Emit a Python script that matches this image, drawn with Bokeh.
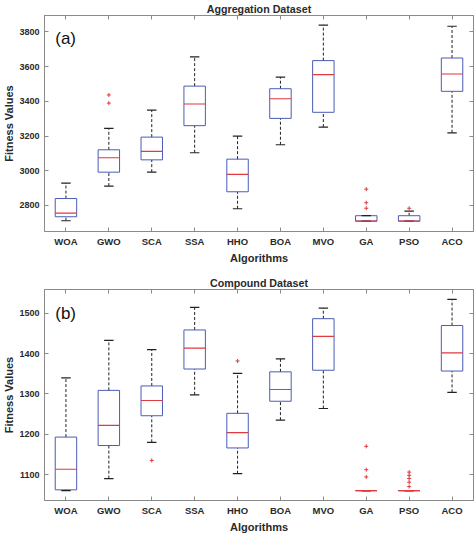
import numpy as np
from bokeh.plotting import figure
from bokeh.layouts import column
from bokeh.models import Range1d, FixedTicker, LinearAxis, Label
from bokeh.embed import file_html
from bokeh.resources import INLINE

algorithms = ["WOA", "GWO", "SCA", "SSA", "HHO", "BOA", "MVO", "GA", "PSO", "ACO"]

# Aggregation dataset (box statistics)
agg_lo  = [2712, 2912, 2992, 3104, 2781, 3150, 3252, 2710, 2710, 3219]
agg_q1  = [2735, 2992, 3063, 3260, 2879, 3302, 3337, 2710, 2710, 3458]
agg_med = [2756, 3075, 3112, 3385, 2979, 3415, 3554, 2710, 2710, 3558]
agg_q3  = [2840, 3121, 3194, 3488, 3067, 3473, 3635, 2741, 2741, 3650]
agg_hi  = [2929, 3244, 3350, 3656, 3200, 3540, 3840, 2741, 2767, 3833]
agg_out = {"GWO": [3437, 3390], "GA": [2894, 2816, 2784], "PSO": [2784]}
agg_yticks = [2800, 3000, 3200, 3400, 3600, 3800]

# Compound dataset (box statistics)
cmp_lo  = [1060, 1090, 1180, 1298, 1102, 1235, 1264, 1060, 1060, 1304]
cmp_q1  = [1062, 1172, 1246, 1362, 1166, 1282, 1359, 1060, 1060, 1357]
cmp_med = [1113, 1222, 1284, 1414, 1204, 1311, 1443, 1060, 1060, 1402]
cmp_q3  = [1193, 1309, 1320, 1459, 1252, 1355, 1487, 1060, 1060, 1470]
cmp_hi  = [1340, 1433, 1410, 1515, 1351, 1387, 1513, 1060, 1060, 1535]
cmp_out = {"SCA": [1135], "HHO": [1382], "GA": [1170, 1112, 1094],
           "PSO": [1106, 1098, 1090, 1081, 1070]}
cmp_yticks = [1100, 1200, 1300, 1400, 1500]

FONT = "Liberation Sans"
FRAME = "#8a8a8a"
BOX = "#4a5cb5"
RED = "#e0393e"
TXT = "#2a2a2a"


def tick_only_axis(ticks):
    return LinearAxis(ticker=FixedTicker(ticks=ticks),
                      major_label_overrides={t: "" for t in ticks},
                      major_label_standoff=0, major_tick_in=4, major_tick_out=0,
                      minor_tick_in=0, minor_tick_out=0, axis_line_color=FRAME,
                      major_tick_line_color=FRAME)


def panel(title, lo, q1, med, q3, hi, outl, yticks, yrange, tag, tag_y,
          height, top_border, bottom_border):
    x = np.arange(1, len(algorithms) + 1)
    xt = [int(i) for i in x]
    p = figure(width=474, height=height, output_backend="svg", toolbar_location=None,
               x_range=Range1d(0.5, len(algorithms) + 0.5), y_range=Range1d(*yrange),
               min_border_left=39, min_border_right=1, min_border_top=top_border,
               min_border_bottom=bottom_border)
    p.background_fill_color = "white"
    p.border_fill_color = "white"
    p.outline_line_color = FRAME
    p.xgrid.visible = False
    p.ygrid.visible = False

    p.title.text = title
    p.title.align = "center"
    p.title.text_font = FONT
    p.title.text_font_size = "10.7px"
    p.title.text_font_style = "bold"
    p.title.text_color = TXT
    p.title.standoff = 1
    p.title.offset = 0

    for ax in (p.xaxis[0], p.yaxis[0]):
        ax.major_tick_in = 4
        ax.major_tick_out = 0
        ax.minor_tick_in = 0
        ax.minor_tick_out = 0
        ax.axis_line_color = FRAME
        ax.major_tick_line_color = FRAME
        ax.major_label_text_font = FONT
        ax.major_label_text_font_style = "bold"
        ax.major_label_text_color = TXT
        ax.axis_label_text_font = FONT
        ax.axis_label_text_font_style = "bold"
        ax.axis_label_text_font_size = "11px"
        ax.axis_label_text_color = TXT

    p.xaxis.ticker = FixedTicker(ticks=xt)
    p.xaxis.major_label_overrides = {i: n for i, n in zip(xt, algorithms)}
    p.xaxis.major_label_text_font_size = "9.5px"
    p.xaxis.major_label_standoff = 4
    p.xaxis.axis_label = "Algorithms"
    p.xaxis.axis_label_standoff = 2

    p.yaxis.ticker = FixedTicker(ticks=yticks)
    p.yaxis.major_label_text_font_size = "9px"
    p.yaxis.major_label_standoff = 5
    p.yaxis.axis_label = "Fitness Values"
    p.yaxis.axis_label_standoff = 1

    p.add_layout(tick_only_axis(xt), "above")
    p.add_layout(tick_only_axis(yticks), "right")

    bw = 0.5
    cw = 0.11
    # whiskers
    p.segment(x0=x, y0=q3, x1=x, y1=hi, line_color="#222222", line_width=1, line_dash="3 2")
    p.segment(x0=x, y0=lo, x1=x, y1=q1, line_color="#222222", line_width=1, line_dash="3 2")
    # boxes
    p.vbar(x=x, width=bw, bottom=q1, top=q3, fill_color="white", fill_alpha=0,
           line_color=BOX, line_width=1)
    # caps
    p.segment(x0=x - cw, y0=hi, x1=x + cw, y1=hi, line_color="#222222", line_width=1.2)
    p.segment(x0=x - cw, y0=lo, x1=x + cw, y1=lo, line_color="#222222", line_width=1.2)
    # medians
    p.segment(x0=x - bw / 2, y0=med, x1=x + bw / 2, y1=med, line_color=RED, line_width=1.1)
    # outliers
    ox, oy = [], []
    for name, vals in outl.items():
        i = algorithms.index(name) + 1
        ox += [i] * len(vals)
        oy += vals
    p.scatter(x=ox, y=oy, marker="cross", size=4, line_color=RED, line_width=1)

    p.add_layout(Label(x=0.75, y=tag_y, text=tag, text_font=FONT, text_font_size="17px",
                       text_baseline="middle", text_color="#111111"))
    return p


p1 = panel("Aggregation Dataset", agg_lo, agg_q1, agg_med, agg_q3, agg_hi, agg_out,
           agg_yticks, (2650, 3895), "(a)", 3761, 270, 15, 39)
p2 = panel("Compound Dataset", cmp_lo, cmp_q1, cmp_med, cmp_q3, cmp_hi, cmp_out,
           cmp_yticks, (1035.5, 1559.5), "(b)", 1500, 265, 19, 30)

layout = column(p1, p2, spacing=0)
open("out.html", "w").write(file_html(layout, INLINE))
